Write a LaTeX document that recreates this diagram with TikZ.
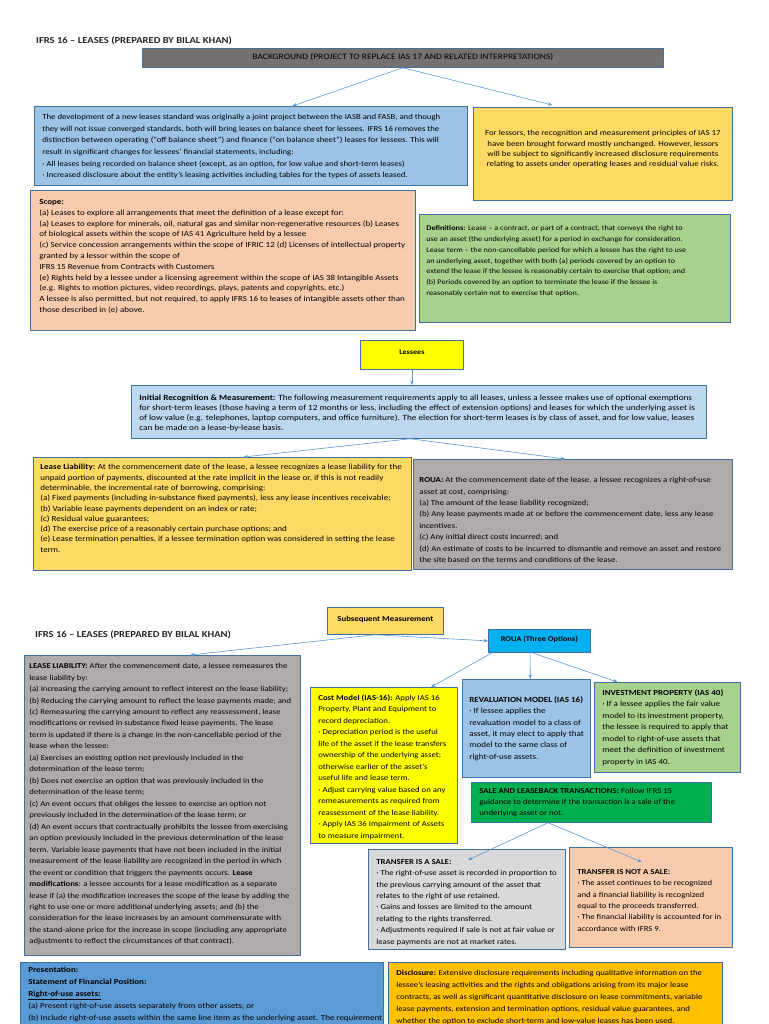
\documentclass[tikz,border=0pt]{standalone}
\usepackage{fontspec}
\setmainfont{Carlito}[FakeStretch=1.15]
\usetikzlibrary{arrows.meta,calc}
\definecolor{bordc}{RGB}{65,113,156}
\definecolor{arrowc}{RGB}{91,155,213}
\definecolor{cblueA}{RGB}{157,195,230}
\definecolor{cblueB}{RGB}{189,215,238}
\definecolor{cgold}{RGB}{255,217,102}
\definecolor{csalmon}{RGB}{248,203,173}
\definecolor{cgreenL}{RGB}{169,209,142}
\definecolor{cyel}{RGB}{255,255,0}
\definecolor{cgray}{RGB}{175,171,171}
\definecolor{ccyan}{RGB}{0,176,240}
\definecolor{cgreen}{RGB}{0,176,80}
\definecolor{clgray}{RGB}{217,217,217}
\definecolor{cpres}{RGB}{91,155,213}
\definecolor{corange}{RGB}{255,192,0}
\definecolor{cbar}{RGB}{118,113,113}
\newcommand{\myfs}[2]{\fontsize{#1}{#2}\selectfont}
\newcommand{\pbl}[5]{\parbox[b][#2pt][t]{#1pt}{\vspace*{#4pt}\leftskip=#3pt\relax\rightskip=0pt plus 1fil\relax\parfillskip=0pt plus 1fil\relax\parindent=0pt\relax\noindent #5\par}}
\newcommand{\pbc}[4]{\parbox[b][#2pt][t]{#1pt}{\vspace*{#3pt}\centering #4\par}}
\tikzset{
 bx/.style={draw=bordc, line width=0.75pt, anchor=north west, inner sep=0pt, text=black},
 arr/.style={draw=arrowc, line width=0.6pt, -{Stealth[length=4.5pt,width=3.5pt]}},
 ttl/.style={anchor=west, inner sep=0pt, font=\myfs{9.2}{11}\bfseries, text=black!85}
}
\begin{document}
\begin{tikzpicture}[x=1pt,y=-1pt]
\clip (0,0) rectangle (768,1024);
\fill[white] (0,0) rectangle (768,1024);

% ---------- page 1 ----------
\node[ttl] (title1) at (36,41) {IFRS 16 – LEASES (PREPARED BY BILAL KHAN)};
\node[bx, fill=cbar, font=\myfs{8.3}{9}] (bg) at (142,48) {\pbc{521}{19}{5}{BACKGROUND (PROJECT TO REPLACE IAS 17 AND RELATED INTERPRETATIONS)}};

\node[bx, fill=cblueA, font=\myfs{7.6}{11.6}] (blue1) at (34,106) {\pbl{433}{79}{8}{8}{%
The development of a new leases standard was originally a joint project between the IASB and FASB, and though\\
they will not issue converged standards, both will bring leases on balance sheet for lessees. IFRS 16 removes the\\
distinction between operating (“off balance sheet”) and finance (“on balance sheet”) leases for lessees. This will\\
result in significant changes for lessees’ financial statements, including:\\
· All leases being recorded on balance sheet (except, as an option, for low value and short-term leases)\\
· Increased disclosure about the entity’s leasing activities including tables for the types of assets leased.}};

\node[bx, fill=cgold, font=\myfs{7.7}{10.4}] (lessors) at (473,107) {\pbc{259}{93}{23}{%
For lessors, the recognition and measurement principles of IAS 17\\
have been brought forward mostly unchanged. However, lessors\\
will be subject to significantly increased disclosure requirements\\
relating to assets under operating leases and residual value risks.}};

\node[bx, fill=csalmon, font=\myfs{7.8}{10.8}] (scope) at (30,190) {\pbl{385}{140}{9}{9}{%
\textbf{Scope:}\\
(a) Leases to explore all arrangements that meet the definition of a lease except for:\\
(a) Leases to explore for minerals, oil, natural gas and similar non-regenerative resources (b) Leases\\
of biological assets within the scope of IAS 41 Agriculture held by a lessee\\
(c) Service concession arrangements within the scope of IFRIC 12 (d) Licenses of intellectual property\\
granted by a lessor within the scope of\\
IFRS 15 Revenue from Contracts with Customers\\
(e) Rights held by a lessee under a licensing agreement within the scope of IAS 38 Intangible Assets\\
(e.g. Rights to motion pictures, video recordings, plays, patents and copyrights, etc.)\\
A lessee is also permitted, but not required, to apply IFRS 16 to leases of intangible assets other than\\
those described in (e) above.}};

\node[bx, fill=cgreenL, font=\myfs{7.1}{10.9}] (defs) at (419,214) {\pbl{311}{108}{7}{11}{%
\textbf{Definitions:} Lease – a contract, or part of a contract, that conveys the right to\\
use an asset (the underlying asset) for a period in exchange for consideration.\\
Lease term – the non-cancellable period for which a lessee has the right to use\\
an underlying asset, together with both (a) periods covered by an option to\\
extend the lease if the lessee is reasonably certain to exercise that option; and\\
(b) Periods covered by an option to terminate the lease if the lessee is\\
reasonably certain not to exercise that option.}};

\node[bx, fill=cyel, font=\myfs{7}{8}\bfseries] (lessees) at (360,340) {\pbc{103}{29}{10}{Lessees}};

\node[bx, fill=cblueB, font=\myfs{8}{10.3}] (initial) at (131,385) {\pbl{575}{53}{8}{9}{%
\textbf{Initial Recognition \& Measurement:} The following measurement requirements apply to all leases, unless a lessee makes use of optional exemptions\\
for short-term leases (those having a term of 12 months or less, including the effect of extension options) and leases for which the underlying asset is\\
of low value (e.g. telephones, laptop computers, and office furniture). The election for short-term leases is by class of asset, and for low value, leases\\
can be made on a lease-by-lease basis.}};

\node[bx, fill=cgold, font=\myfs{7.85}{10.3}] (ll) at (33,457) {\pbl{378}{113}{7}{7}{%
\textbf{Lease Liability:} At the commencement date of the lease, a lessee recognizes a lease liability for the\\
unpaid portion of payments, discounted at the rate implicit in the lease or, if this is not readily\\
determinable, the incremental rate of borrowing, comprising:\\
(a) Fixed payments (including in-substance fixed payments), less any lease incentives receivable;\\
(b) Variable lease payments dependent on an index or rate;\\
(c) Residual value guarantees;\\
(d) The exercise price of a reasonably certain purchase options; and\\
(e) Lease termination penalties, if a lessee termination option was considered in setting the lease\\
term.}};

\node[bx, fill=cgray, font=\myfs{7.65}{11.4}] (roua) at (413,459) {\pbl{319}{110}{6}{18}{%
\textbf{ROUA:} At the commencement date of the lease, a lessee recognizes a right-of-use\\
asset at cost, comprising:\\
(a) The amount of the lease liability recognized;\\
(b) Any lease payments made at or before the commencement date, less any lease\\
incentives.\\
(c) Any initial direct costs incurred; and\\
(d) An estimate of costs to be incurred to dismantle and remove an asset and restore\\
the site based on the terms and conditions of the lease.}};

\draw[arr] (bg.south) -- ($(blue1.north west)!0.596!(blue1.north east)$);
\draw[arr] (bg.south) -- ($(lessors.north west)!0.305!(lessors.north east)+(0,-2)$);
\draw[arr] (lessees.south) -- (lessees.south |- initial.north);
\coordinate (ini) at ($(initial.south west)!0.485!(initial.south east)$);
\draw[arr] (ini) -- ($(ll.north west)!0.556!(ll.north east)$);
\draw[arr] (ini) -- ($(roua.north west)!0.476!(roua.north east)$);

% ---------- page 2 ----------
\node[bx, fill=cgold, font=\myfs{7.6}{8}\bfseries] (subm) at (327,607) {\pbc{116}{27}{9}{Subsequent Measurement}};
\node[ttl] (title2) at (35,635) {IFRS 16 – LEASES (PREPARED BY BILAL KHAN)};
\node[bx, fill=ccyan, font=\myfs{7.3}{8}\bfseries] (roua3) at (488,629) {\pbc{102}{23}{7}{ROUA (Three Options)}};

\node[bx, fill=cgray, font=\myfs{7.55}{11.47}] (ll2) at (24,655) {\pbl{276}{300}{5}{8}{%
\textbf{LEASE LIABILITY:} After the commencement date, a lessee remeasures the\\
lease liability by:\\
(a) Increasing the carrying amount to reflect interest on the lease liability;\\
(b) Reducing the carrying amount to reflect the lease payments made; and\\
(c) Remeasuring the carrying amount to reflect any reassessment, lease\\
modifications or revised in substance fixed lease payments. The lease\\
term is updated if there is a change in the non-cancellable period of the\\
lease when the lessee:\\
(a) Exercises an existing option not previously included in the\\
determination of the lease term;\\
(b) Does not exercise an option that was previously included in the\\
determination of the lease term;\\
(c) An event occurs that obliges the lessee to exercise an option not\\
previously included in the determination of the lease term; or\\
(d) An event occurs that contractually prohibits the lessee from exercising\\
an option previously included in the previous determination of the lease\\
term. Variable lease payments that have not been included in the initial\\
measurement of the lease liability are recognized in the period in which\\
the event or condition that triggers the payments occurs. \textbf{Lease}\\
\textbf{modifications}: a lessee accounts for a lease modification as a separate\\
lease if (a) the modification increases the scope of the lease by adding the\\
right to use one or more additional underlying assets; and (b) the\\
consideration for the lease increases by an amount commensurate with\\
the stand-alone price for the increase in scope (including any appropriate\\
adjustments to reflect the circumstances of that contract).}};

\node[bx, fill=cyel, font=\myfs{7.6}{11.5}] (cost) at (310,687) {\pbl{147}{156}{8}{7}{%
\textbf{Cost Model (IAS-16):} Apply IAS 16\\
Property, Plant and Equipment to\\
record depreciation.\\
· Depreciation period is the useful\\
life of the asset if the lease transfers\\
ownership of the underlying asset;\\
otherwise earlier of the asset’s\\
useful life and lease term.\\
· Adjust carrying value based on any\\
remeasurements as required from\\
reassessment of the lease liability.\\
· Apply IAS 36 Impairment of Assets\\
to measure impairment.}};

\node[bx, fill=cblueA, font=\myfs{7.85}{11.4}] (reval) at (462,679) {\pbl{128}{98}{7}{17}{%
\textbf{REVALUATION MODEL (IAS 16)}\\
· If lessee applies the\\
revaluation model to a class of\\
asset, it may elect to apply that\\
model to the same class of\\
right-of-use assets.}};

\node[bx, fill=cgreenL, font=\myfs{7.8}{11.5}] (invest) at (594,682) {\pbl{146}{90}{8}{7}{%
\textbf{INVESTMENT PROPERTY (IAS 40)}\\
· If a lessee applies the fair value\\
model to its investment property,\\
the lessee is required to apply that\\
model to right-of-use assets that\\
meet the definition of investment\\
property in IAS 40.}};

\node[bx, fill=cgreen, font=\myfs{7.6}{11}] (sale) at (471,782) {\pbl{240}{40}{8}{6}{%
\textbf{SALE AND LEASEBACK TRANSACTIONS:} Follow IFRS 15\\
guidance to determine if the transaction is a sale of the\\
underlying asset or not.}};

\node[bx, fill=clgray, font=\myfs{7.6}{11.4}] (tsale) at (368,849) {\pbl{197}{100}{8}{10}{%
\textbf{TRANSFER IS A SALE:}\\
· The right-of-use asset is recorded in proportion to\\
the previous carrying amount of the asset that\\
relates to the right of use retained.\\
· Gains and losses are limited to the amount\\
relating to the rights transferred.\\
· Adjustments required if sale is not at fair value or\\
lease payments are not at market rates.}};

\node[bx, fill=csalmon, font=\myfs{7.6}{11.4}] (tnot) at (569,847) {\pbl{163}{100}{8}{22}{%
\textbf{TRANSFER IS NOT A SALE:}\\
· The asset continues to be recognized\\
and a financial liability is recognized\\
equal to the proceeds transferred.\\
· The financial liability is accounted for in\\
accordance with IFRS 9.}};

\node[bx, fill=cpres, font=\myfs{7.8}{12}] (pres) at (20,962) {\pbl{363}{80}{8}{5}{%
\textbf{Presentation:}\\
\textbf{Statement of Financial Position:}\\
\textbf{\underline{Right-of-use assets:}}\\
(a) Present right-of-use assets separately from other assets; or\\
(b) Include right-of-use assets within the same line item as the underlying asset. The requirement}};

\node[bx, fill=corange, font=\myfs{7.6}{12}] (disc) at (388,962) {\pbl{334}{80}{8}{8}{%
\textbf{Disclosure:} Extensive disclosure requirements including qualitative information on the\\
lessee’s leasing activities and the rights and obligations arising from its major lease\\
contracts, as well as significant quantitative disclosure on lease commitments, variable\\
lease payments, extension and termination options, residual value guarantees, and\\
whether the option to exclude short-term and low-value leases has been used.}};

\coordinate (sm) at ($(subm.south west)!0.41!(subm.south east)$);
\draw[arr] (sm) -- ($(ll2.north west)!0.60!(ll2.north east)$);
\draw[arr] (sm) -- (roua3.west);
\draw[arr] ($(roua3.south west)!0.04!(roua3.south east)$) -- ($(cost.north west)!0.82!(cost.north east)$);
\draw[arr] ($(roua3.south west)!0.41!(roua3.south east)$) -- ($(reval.north west)!0.53!(reval.north east)$);
\draw[arr] ($(roua3.south west)!0.43!(roua3.south east)$) -- ($(invest.north west)!0.16!(invest.north east)$);
\coordinate (sl) at ($(sale.south west)!0.32!(sale.south east)$);
\draw[arr] (sl) -- ($(tsale.north west)+(100,11)$);
\draw[arr] (sl) -- ($(tnot.north west)+(73,15)$);
\end{tikzpicture}
\end{document}
